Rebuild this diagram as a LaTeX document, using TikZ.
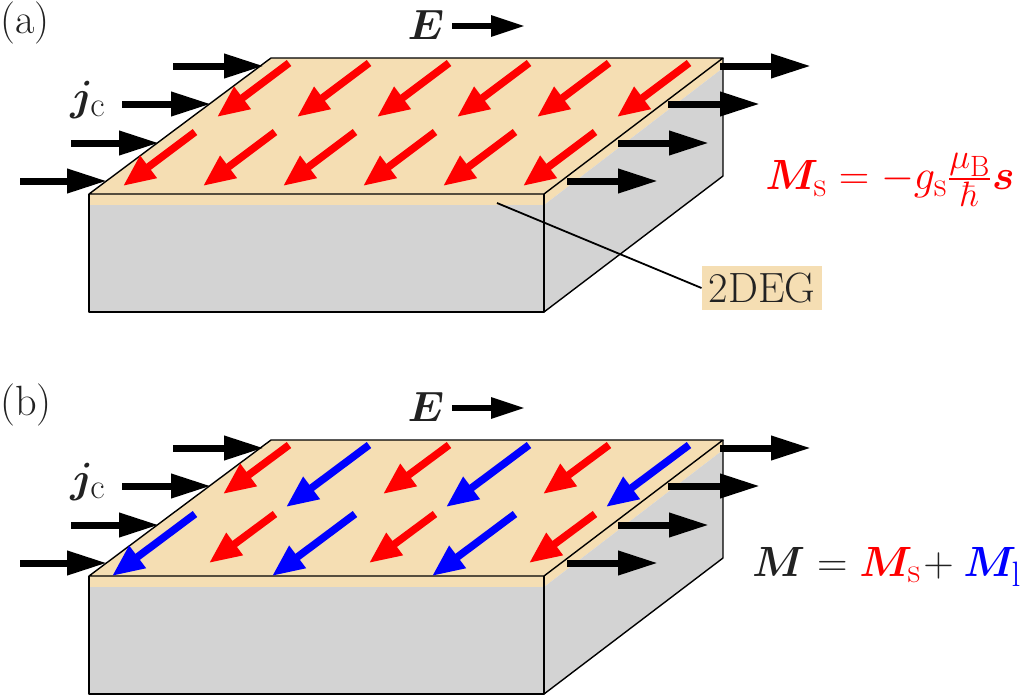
\documentclass[tikz,border=0pt]{standalone}
\usepackage{amsmath,bm}
\usetikzlibrary{arrows.meta}
\definecolor{beige}{HTML}{F5DEB3}
\definecolor{slab}{HTML}{D3D3D3}
\definecolor{myred}{HTML}{FF0000}
\definecolor{myblue}{HTML}{0000FF}
\definecolor{ink}{HTML}{222222}
\newcommand{\bigt}[1]{\scalebox{1.7}{\Huge #1}}
\tikzset{
  jarrow/.style={line width=7pt,-{Triangle[length=40pt,width=23pt]}},
  sarrow/.style={line width=7.5pt,-{Triangle[length=32pt,width=26pt]}},
  outline/.style={draw=black,line width=1.4pt,line join=round},
  bigtext/.style={inner sep=0pt,text=ink},
}
\newcommand{\slabpanel}{%
  \fill[beige] (89,194)--(544,194)--(723,58)--(271,58)--cycle;
  \fill[beige] (89,194)--(544,194)--(544,205)--(89,205)--cycle;
  \fill[beige] (544,194)--(723,58)--(723,68)--(544,205)--cycle;
  \fill[slab] (89,205)--(544,205)--(544,312)--(89,312)--cycle;
  \fill[slab] (544,205)--(723,68)--(723,176)--(544,312)--cycle;
  \draw[outline] (89,194)--(544,194)--(723,58)--(271,58)--cycle;
  \draw[outline] (89,194)--(89,312)--(544,312)--(544,194);
  \draw[outline] (544,312)--(723,176)--(723,58);
  \coordinate (l1s) at (173,66); \coordinate (l1e) at (264,66);
  \coordinate (l2s) at (122,104); \coordinate (l2e) at (211,104);
  \coordinate (l3s) at (71,143); \coordinate (l3e) at (159,143);
  \coordinate (l4s) at (20,181); \coordinate (l4e) at (107,181);
  \coordinate (r1s) at (720,66); \coordinate (r1e) at (811,66);
  \coordinate (r2s) at (668,104); \coordinate (r2e) at (760,104);
  \coordinate (r3s) at (618,143); \coordinate (r3e) at (709,143);
  \coordinate (r4s) at (567,181); \coordinate (r4e) at (658,181);
  \foreach \i in {1,2,3,4}{\draw[jarrow] (l\i s)--(l\i e); \draw[jarrow] (r\i s)--(r\i e);}
  \node[bigtext] (E) at (426,25) {\bigt{$\bm{E}$}};
  \coordinate (Es) at (452,26); \coordinate (Ee) at (525,26);
  \draw[jarrow,line width=6pt,-{Triangle[length=34pt,width=20pt]}] (Es)--(Ee);
  \node[bigtext] (jc) at (88,100) {\bigt{$\bm{j}_{\mathrm{c}}$}};
}
\begin{document}
\begin{tikzpicture}[x=1pt,y=-1pt]
\useasboundingbox (0,0) rectangle (1025,697);
% panel (a)
\begin{scope}
\slabpanel
\foreach \k in {0,...,5}{
  \draw[sarrow,myred] (289+80*\k,63)--++(-72,54);
  \draw[sarrow,myred] (195+80*\k,132)--++(-72,54);
}
\node[bigtext,anchor=west] (la) at (0,23) {\bigt{(a)}};
\node[bigtext,text=myred] (Ms) at (890,180) {\bigt{$\bm{M}_{\mathrm{s}}=-g_{\mathrm{s}}\frac{\mu_{\mathrm{B}}}{\hbar}\bm{s}$}};
\node[bigtext,fill=beige,inner sep=7pt] (deg) at (762,288) {\bigt{2DEG}};
\coordinate (degp) at (497,203);
\draw[line width=1.8pt] (degp)--(deg.west);
\end{scope}
% panel (b)
\begin{scope}[yshift=-382pt]
\slabpanel
\foreach \k in {0,2,4}{
  \draw[sarrow,myred] (289+80*\k,63)--++(-66,49);
  \draw[sarrow,myblue] (289+80*\k+80,63)--++(-83,62);
  \draw[sarrow,myblue] (195+80*\k,132)--++(-83,62);
  \draw[sarrow,myred] (195+80*\k+80,132)--++(-66,49);
}
\node[bigtext,anchor=west] (lb) at (0,23) {\bigt{(b)}};
\node[bigtext,anchor=west] (M) at (752,185) {\bigt{$\bm{M}=\textcolor{myred}{\bm{M}_{\mathrm{s}}}\!+\textcolor{myblue}{\bm{M}_{\mathrm{l}}}$}};
\end{scope}
\end{tikzpicture}
\end{document}
